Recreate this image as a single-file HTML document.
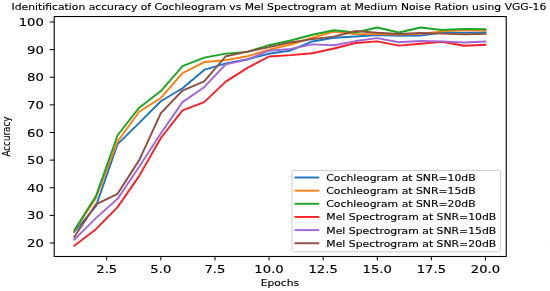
<!DOCTYPE html>
<html><head><meta charset="utf-8"><title>chart</title>
<style>html,body{margin:0;padding:0;background:#fff;}svg{display:block;}text{font-family:"DejaVu Sans","Liberation Sans",sans-serif;fill:#000;stroke:#000;stroke-width:0.14px;}</style></head><body>
<svg width="550" height="291" viewBox="0 0 550 291">
<rect width="550" height="291" fill="#ffffff"/>
<g fill="none" stroke-width="1.9" stroke-linejoin="round" stroke-linecap="square">
<polyline points="74.30,231.95 95.94,206.26 117.58,144.10 139.22,122.83 160.86,101.28 182.50,88.30 204.14,69.93 225.78,63.44 247.42,59.29 269.06,53.77 290.70,50.45 312.34,41.48 333.98,37.75 355.62,36.50 377.26,34.98 398.90,35.81 420.54,35.54 442.18,32.50 463.82,32.64 485.46,32.50" stroke="#1a76c3"/>
<polyline points="74.30,230.98 95.94,197.97 117.58,141.34 139.22,111.78 160.86,97.97 182.50,73.11 204.14,62.06 225.78,60.12 247.42,56.25 269.06,49.62 290.70,44.51 312.34,37.75 333.98,31.67 355.62,34.16 377.26,34.16 398.90,34.43 420.54,33.88 442.18,31.39 463.82,30.01 485.46,30.56" stroke="#ff7f0e"/>
<polyline points="74.30,230.29 95.94,196.04 117.58,135.26 139.22,107.64 160.86,91.06 182.50,66.20 204.14,57.64 225.78,53.63 247.42,51.83 269.06,45.21 290.70,40.51 312.34,34.71 333.98,30.29 355.62,32.50 377.26,27.52 398.90,32.50 420.54,27.52 442.18,30.01 463.82,28.91 485.46,29.18" stroke="#19a524"/>
<polyline points="74.30,245.76 95.94,229.19 117.58,207.09 139.22,175.87 160.86,138.02 182.50,110.40 204.14,102.11 225.78,81.67 247.42,67.86 269.06,56.53 290.70,55.15 312.34,53.22 333.98,48.52 355.62,42.99 377.26,41.34 398.90,45.62 420.54,43.82 442.18,41.75 463.82,45.76 485.46,44.79" stroke="#fd1d25"/>
<polyline points="74.30,239.69 95.94,218.14 117.58,198.80 139.22,166.75 160.86,133.33 182.50,102.11 204.14,87.19 225.78,64.27 247.42,59.57 269.06,50.73 290.70,48.93 312.34,44.38 333.98,45.21 355.62,41.06 377.26,38.16 398.90,42.30 420.54,41.06 442.18,41.34 463.82,42.44 485.46,41.61" stroke="#a167d5"/>
<polyline points="74.30,236.92 95.94,204.32 117.58,193.83 139.22,160.12 160.86,113.16 182.50,90.51 204.14,81.39 225.78,56.25 247.42,51.56 269.06,47.14 290.70,42.44 312.34,39.13 333.98,36.64 355.62,30.98 377.26,32.77 398.90,34.02 420.54,33.05 442.18,33.60 463.82,34.29 485.46,33.88" stroke="#8e4d41"/>
</g>
<rect x="54.2" y="16.55" width="452.05" height="239.95" fill="none" stroke="#000" stroke-width="1.1"/>
<g stroke="#000" stroke-width="1.0">
<line x1="49.60" y1="243.00" x2="54.2" y2="243.00"/>
<line x1="49.60" y1="215.38" x2="54.2" y2="215.38"/>
<line x1="49.60" y1="187.75" x2="54.2" y2="187.75"/>
<line x1="49.60" y1="160.12" x2="54.2" y2="160.12"/>
<line x1="49.60" y1="132.50" x2="54.2" y2="132.50"/>
<line x1="49.60" y1="104.88" x2="54.2" y2="104.88"/>
<line x1="49.60" y1="77.25" x2="54.2" y2="77.25"/>
<line x1="49.60" y1="49.62" x2="54.2" y2="49.62"/>
<line x1="49.60" y1="22.00" x2="54.2" y2="22.00"/>
<line x1="106.76" y1="256.5" x2="106.76" y2="260.50"/>
<line x1="160.86" y1="256.5" x2="160.86" y2="260.50"/>
<line x1="214.96" y1="256.5" x2="214.96" y2="260.50"/>
<line x1="269.06" y1="256.5" x2="269.06" y2="260.50"/>
<line x1="323.16" y1="256.5" x2="323.16" y2="260.50"/>
<line x1="377.26" y1="256.5" x2="377.26" y2="260.50"/>
<line x1="431.36" y1="256.5" x2="431.36" y2="260.50"/>
<line x1="485.46" y1="256.5" x2="485.46" y2="260.50"/>
</g>
<text transform="translate(43.90,247.00) scale(1.26,1)" font-size="10.5" text-anchor="end">20</text>
<text transform="translate(43.90,219.38) scale(1.26,1)" font-size="10.5" text-anchor="end">30</text>
<text transform="translate(43.90,191.75) scale(1.26,1)" font-size="10.5" text-anchor="end">40</text>
<text transform="translate(43.90,164.12) scale(1.26,1)" font-size="10.5" text-anchor="end">50</text>
<text transform="translate(43.90,136.50) scale(1.26,1)" font-size="10.5" text-anchor="end">60</text>
<text transform="translate(43.90,108.88) scale(1.26,1)" font-size="10.5" text-anchor="end">70</text>
<text transform="translate(43.90,81.25) scale(1.26,1)" font-size="10.5" text-anchor="end">80</text>
<text transform="translate(43.90,53.62) scale(1.26,1)" font-size="10.5" text-anchor="end">90</text>
<text transform="translate(43.90,26.00) scale(1.26,1)" font-size="10.5" text-anchor="end">100</text>
<text transform="translate(106.76,273.0) scale(1.26,1)" font-size="10.5" text-anchor="middle">2.5</text>
<text transform="translate(160.86,273.0) scale(1.26,1)" font-size="10.5" text-anchor="middle">5.0</text>
<text transform="translate(214.96,273.0) scale(1.26,1)" font-size="10.5" text-anchor="middle">7.5</text>
<text transform="translate(269.06,273.0) scale(1.26,1)" font-size="10.5" text-anchor="middle">10.0</text>
<text transform="translate(323.16,273.0) scale(1.26,1)" font-size="10.5" text-anchor="middle">12.5</text>
<text transform="translate(377.26,273.0) scale(1.26,1)" font-size="10.5" text-anchor="middle">15.0</text>
<text transform="translate(431.36,273.0) scale(1.26,1)" font-size="10.5" text-anchor="middle">17.5</text>
<text transform="translate(485.46,273.0) scale(1.26,1)" font-size="10.5" text-anchor="middle">20.0</text>
<text transform="translate(11.6,9.6) scale(1.1715,1)" font-size="9.2">Idenitification accuracy of Cochleogram vs Mel Spectrogram at Medium Noise Ration using VGG-16</text>
<text transform="translate(279.83,286.1) scale(1.165,1)" font-size="9.2" text-anchor="middle">Epochs</text>
<text transform="translate(10.4,136.53) rotate(-90) scale(0.958,1.07)" font-size="9.2" text-anchor="middle">Accuracy</text>
<rect x="292.0" y="170.4" width="208.40" height="81.40" rx="2" ry="1.5" fill="#ffffff" fill-opacity="0.8" stroke="#cccccc" stroke-width="1"/>
<line x1="295.5" y1="177.50" x2="318.3" y2="177.50" stroke="#1a76c3" stroke-width="1.9" stroke-linecap="square"/>
<text transform="translate(326.3,180.90) scale(1.167,1)" font-size="9.3">Cochleogram at SNR=10dB</text>
<line x1="295.5" y1="190.65" x2="318.3" y2="190.65" stroke="#ff7f0e" stroke-width="1.9" stroke-linecap="square"/>
<text transform="translate(326.3,194.05) scale(1.167,1)" font-size="9.3">Cochleogram at SNR=15dB</text>
<line x1="295.5" y1="203.80" x2="318.3" y2="203.80" stroke="#19a524" stroke-width="1.9" stroke-linecap="square"/>
<text transform="translate(326.3,207.20) scale(1.167,1)" font-size="9.3">Cochleogram at SNR=20dB</text>
<line x1="295.5" y1="216.95" x2="318.3" y2="216.95" stroke="#fd1d25" stroke-width="1.9" stroke-linecap="square"/>
<text transform="translate(326.3,220.35) scale(1.167,1)" font-size="9.3">Mel Spectrogram at SNR=10dB</text>
<line x1="295.5" y1="230.10" x2="318.3" y2="230.10" stroke="#a167d5" stroke-width="1.9" stroke-linecap="square"/>
<text transform="translate(326.3,233.50) scale(1.167,1)" font-size="9.3">Mel Spectrogram at SNR=15dB</text>
<line x1="295.5" y1="243.25" x2="318.3" y2="243.25" stroke="#8e4d41" stroke-width="1.9" stroke-linecap="square"/>
<text transform="translate(326.3,246.65) scale(1.167,1)" font-size="9.3">Mel Spectrogram at SNR=20dB</text>
<rect x="546" y="244" width="1" height="2" fill="#e6e6e6"/>
</svg></body></html>
